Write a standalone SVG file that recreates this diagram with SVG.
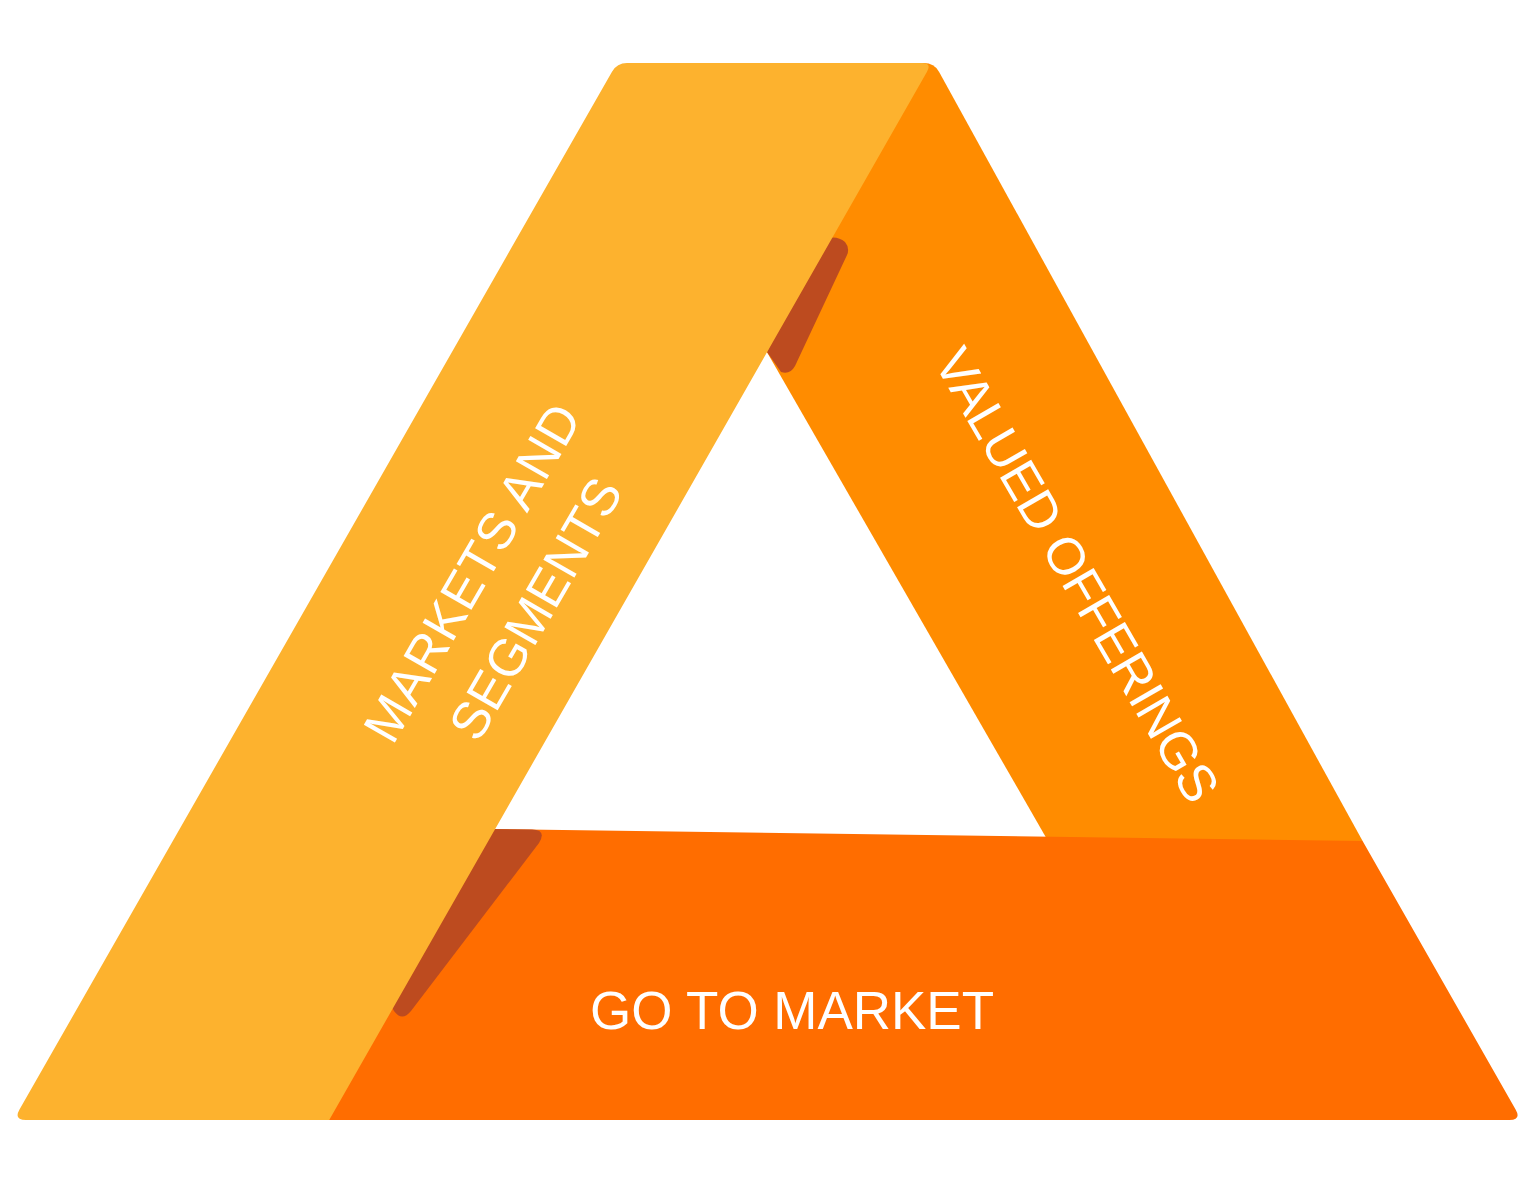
<svg xmlns="http://www.w3.org/2000/svg" width="1536" height="1182" viewBox="0 0 1536 1182">
  <style>
    .lbl { font-family: "Liberation Sans", Arial, sans-serif; font-size: 52px; fill: #FFFFFF; }
    .fold { fill: #BD4B1F; }
  </style>
  <rect x="0" y="0" width="1536" height="1182" fill="#FFFFFF"/>

  <g id="node-valued-offerings">
    <path d="M 700 63 L 924 63 Q 934.1 63 939 71.7 L 1362.6 841 L 1052 848 L 760 340 Z" fill="#FF8C00"/>
    <text class="lbl" transform="translate(933,361.5) rotate(60)" x="0" y="0" textLength="514" lengthAdjust="spacing">VALUED OFFERINGS</text>
  </g>

  <g id="fold-upper">
    <path class="fold" d="M 822 240 Q 836 234 845 242 Q 850 248 847 255 L 795 366 Q 790 375 781 372 L 767 352 Z"/>
  </g>

  <g id="node-go-to-market">
    <path d="M 470 828.7 L 1362.6 841 L 1515.6 1109.5 Q 1521.6 1120 1509.6 1120 L 250 1120 Z" fill="#FF6D00"/>
    <text class="lbl" x="792" y="1029.3" text-anchor="middle" style="font-size:53px" textLength="404" lengthAdjust="spacing">GO TO MARKET</text>
  </g>

  <g id="fold-lower">
    <path class="fold" d="M 490 829 L 532 829.6 Q 547 830 539 843 L 411 1011 Q 402 1022 394 1011 L 388 1000 Z"/>
  </g>

  <g id="node-markets-and-segments">
    <path d="M 627 63 L 922 63 Q 932 63 927 71.7 L 329.2 1120 L 26 1120 Q 13.5 1120 19.5 1109.5 L 612 71.7 Q 617 63 627 63 Z" fill="#FDB22E"/>
    <text class="lbl" transform="translate(487.7,581.7) rotate(-60)" x="0" y="0" text-anchor="middle" textLength="380" lengthAdjust="spacing">MARKETS AND</text>
    <text class="lbl" transform="translate(551.2,617.6) rotate(-60)" x="0" y="0" text-anchor="middle">SEGMENTS</text>
  </g>

  <g id="connectors"></g>
</svg>
